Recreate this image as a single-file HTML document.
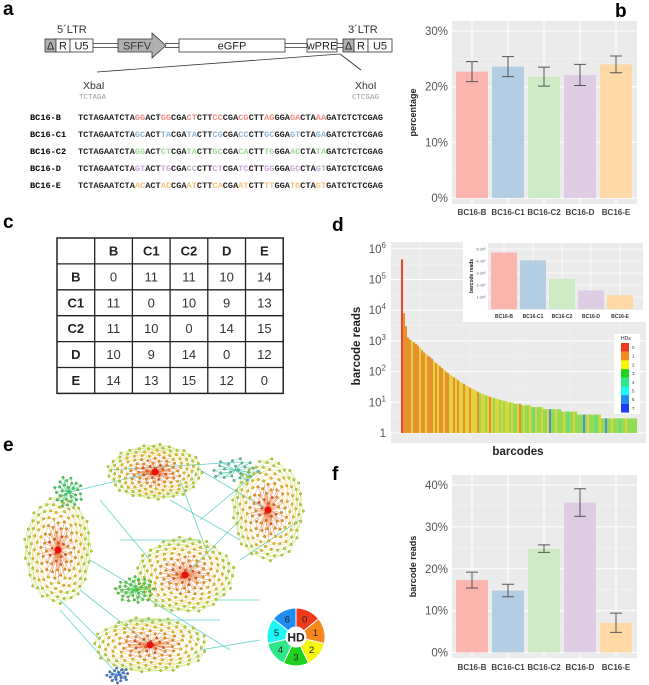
<!DOCTYPE html>
<html><head><meta charset="utf-8">
<style>
html,body{margin:0;padding:0;background:#fff;}
svg{display:block;font-family:"Liberation Sans",sans-serif;}
.lbl{font-weight:bold;font-size:19px;}
.seq{font-family:"Liberation Mono",monospace;font-weight:bold;font-size:8.6px;}
.tick{fill:#555;font-size:11.5px;}
.xt{fill:#444;font-size:8px;font-weight:bold;}
</style></head>
<body>
<svg id="fig" width="649" height="685" viewBox="0 0 649 685" xmlns="http://www.w3.org/2000/svg">
<text class="lbl" x="3" y="15">a</text>
<text class="lbl" x="615" y="17">b</text>
<text class="lbl" x="3" y="228">c</text>
<text class="lbl" x="332" y="231">d</text>
<text class="lbl" x="3" y="451">e</text>
<text class="lbl" x="332" y="480">f</text>

<g id="vector" stroke="#333" stroke-width="0.8" font-size="11">
  <text x="57" y="33" font-size="11" fill="#333" stroke="none">5´LTR</text>
  <text x="348" y="33" font-size="11" fill="#333" stroke="none">3´LTR</text>
  <line x1="93" y1="43.5" x2="118" y2="43.5"/><line x1="93" y1="47.5" x2="118" y2="47.5"/>
  <line x1="165" y1="43.5" x2="179" y2="43.5"/><line x1="165" y1="47.5" x2="179" y2="47.5"/>
  <line x1="285" y1="43.5" x2="307" y2="43.5"/><line x1="285" y1="47.5" x2="307" y2="47.5"/>
  <line x1="337" y1="43.5" x2="343" y2="43.5"/><line x1="337" y1="47.5" x2="343" y2="47.5"/>
  <rect x="45" y="39" width="11" height="13" fill="#b0b0b0"/><rect x="56" y="39" width="14" height="13" fill="#fff"/><rect x="70" y="39" width="23" height="13" fill="#fff"/>
  <polygon points="118,39 152,39 152,33 166,45.5 152,58 152,52 118,52" fill="#b0b0b0"/>
  <rect x="179" y="39" width="106" height="13" fill="#fff"/>
  <rect x="307" y="39" width="30" height="13" fill="#fff"/>
  <rect x="343" y="39" width="11" height="13" fill="#b0b0b0"/><rect x="354" y="39" width="14" height="13" fill="#fff"/><rect x="368" y="39" width="24" height="13" fill="#fff"/>
  <g stroke="none" fill="#222" text-anchor="middle">
    <text x="50.5" y="49.5">Δ</text><text x="63" y="49.5">R</text><text x="81.5" y="49.5">U5</text>
    <text x="137" y="49.5" fill="#333">SFFV</text><text x="232" y="49.5">eGFP</text><text x="322" y="49.5">wPRE</text>
    <text x="348.5" y="49.5">Δ</text><text x="361" y="49.5">R</text><text x="380" y="49.5">U5</text>
  </g>
  <line x1="340" y1="54" x2="97" y2="72"/><line x1="340" y1="54" x2="361" y2="70"/>
  <g stroke="none">
    <text x="83" y="89" font-size="10.5" fill="#333">XbaI</text>
    <text x="79" y="99" font-size="7.5" fill="#999" font-family="Liberation Mono,monospace">TCTAGA</text>
    <text x="355" y="89" font-size="10.5" fill="#333">XhoI</text>
    <text x="352" y="99" font-size="7.5" fill="#999" font-family="Liberation Mono,monospace">CTCGAG</text>
  </g>
</g>
<g id="seqs"></g>

<g id="table"></g>
<g id="panelB"></g>
<g id="panelD"></g>
<g id="panelE"></g>
<g id="panelF"></g>
</svg>
<script>
// ---------- data ----------
const seqNames = ["BC16-B","BC16-C1","BC16-C2","BC16-D","BC16-E"];
const seqBarcodes = [
 ["GG","GG","CT","CC","CG","AG","GA","AA"],
 ["GC","TA","TA","CG","CC","GC","GT","GA"],
 ["GG","CT","TA","GC","CA","TG","AC","TA"],
 ["GT","TG","CC","CT","TC","GG","GC","GT"],
 ["AC","AC","AT","CA","AT","TT","TG","GT"]];
const seqColors = ["#f08a80","#8fb4d8","#9fd896","#c9a7d6","#f7c07a"];
const seqFixed = ["TCTAGAATCTA","ACT","CGA","CTT","CGA","CTT","GGA","CTA","GATCTCTCGAG"];

const hdLabels = ["B","C1","C2","D","E"];
const hdMatrix = [[0,11,11,10,14],[11,0,10,9,13],[11,10,0,14,15],[10,9,14,0,12],[14,13,15,12,0]];

const barCats = ["BC16-B","BC16-C1","BC16-C2","BC16-D","BC16-E"];
const barFills = ["#fbb4ae","#b3cde3","#ccebc5","#decbe4","#fed9a6"];
const bVals = [22.7,23.6,21.8,22.1,24.0];
const bErr = [1.8,1.8,1.7,1.9,1.5];
const bTicks = [0,10,20,30];
const fVals = [17.3,14.8,24.8,35.8,7.1];
const fErr = [1.9,1.5,0.9,3.3,2.3];
const fTicks = [0,10,20,30,40];

const insetVals = [470000,405000,250000,155000,115000];
const insetTicks = [1,2,3,4,5];

const readVals = [450000,8000,3000,1300,1100,1000,900,800,700,600,500,420,380,330,300,260,220,190,170,150,
 130,115,100,90,80,72,65,58,52,47,43,40,36,33,30,28,26,24,22,20,19,18,17,16,15,14,14,13,13,12,
 12,11,11,10,10,10,9,9,9,9,8,8,8,8,8,7,7,7,7,7,7,6,6,6,6,6,6,6,6,6,5,5,5,5,5,5,5,5,4,4,
 4,4,4,4,4,4,4,4,4,4,3,3,3,3,3,3,3,3,3,3,3,3,3,3,3,3,3,3];
const readHD = [0,1,1,1,1,2,1,1,1,2,1,1,2,1,1,1,2,1,2,1,1,2,1,1,2,2,1,2,1,2,2,1,2,2,1,2,2,2,1,3,
 2,2,3,2,1,2,3,2,2,3,2,3,2,2,3,2,3,3,2,1,3,2,3,3,2,3,4,2,3,3,2,3,3,2,6,3,3,2,3,3,3,2,3,4,3,3,2,3,3,3,
 3,6,3,2,3,3,3,4,3,2,3,3,6,3,3,2,3,3,3,4,3,3,2,3,3,3,3,3];
const decadeTicks = [0,1,2,3,4,5,6];

const wheelLabels = ["0","1","2","3","4","5","6"];

const NS="http://www.w3.org/2000/svg";
function el(tag,attrs,parent,text){const e=document.createElementNS(NS,tag);for(const k in attrs)e.setAttribute(k,attrs[k]);if(text!==undefined)e.textContent=text;parent.appendChild(e);return e;}

// ---------- sequences ----------
(function(){
 const g=document.getElementById('seqs');
 seqNames.forEach((n,r)=>{
  const y=120+r*17;
  const t=el('text',{class:'seq',x:30,y:y},g,n);
  
  
  const s=el('text',{class:'seq',x:78,y:y,textLength:305,lengthAdjust:'spacing'},g);
  
  
  seqFixed.forEach((f,i)=>{
   el('tspan',{fill:'#222'},s,f);
   if(i<8) el('tspan',{fill:seqColors[r]},s,seqBarcodes[r][i]);
  });
 });
})();

// ---------- table ----------
(function(){
 const g=document.getElementById('table');
 const x0=57,y0=238,cw=37.7,rh=25.9;
 el('rect',{x:x0,y:y0,width:cw*6,height:rh*6,fill:'#fff',stroke:'#222','stroke-width':1.5},g);
 for(let i=1;i<6;i++){
  el('line',{x1:x0+cw*i,y1:y0,x2:x0+cw*i,y2:y0+rh*6,stroke:'#222','stroke-width':1.3},g);
  el('line',{x1:x0,y1:y0+rh*i,x2:x0+cw*6,y2:y0+rh*i,stroke:'#222','stroke-width':1.3},g);
 }
 hdLabels.forEach((l,i)=>{
  const a=el('text',{x:x0+cw*(i+1.5),y:y0+rh*0.5+4.5,'text-anchor':'middle','font-size':13,'font-weight':'bold',fill:'#222'},g,l);
  
  
  const b=el('text',{x:x0+cw*0.5,y:y0+rh*(i+1.5)+4.5,'text-anchor':'middle','font-size':13,'font-weight':'bold',fill:'#222'},g,l);
  
  
  hdMatrix[i].forEach((v,j)=>{
   const c=el('text',{x:x0+cw*(j+1.5),y:y0+rh*(i+1.5)+4.5,'text-anchor':'middle','font-size':13,fill:'#333'},g,v);
   
   
  });
 });
})();

// ---------- bar charts b and f ----------
function barChart(gid,vals,errs,ticks,yTop,yBot,vmax,plotTop,plotBot,ytitle,labY){
 const g=document.getElementById(gid);
 const L=452,R=637;
 const y=v=>yBot-(v/vmax)*(yBot-yTop);
 const x=i=>472+i*36;
 el('rect',{x:L,y:plotTop,width:R-L,height:plotBot-plotTop,fill:'#ebebeb'},g);
 for(let k=0;k<ticks.length-1;k++) el('line',{x1:L,x2:R,y1:(y(ticks[k])+y(ticks[k+1]))/2,y2:(y(ticks[k])+y(ticks[k+1]))/2,stroke:'#f5f5f5','stroke-width':0.6},g);
 ticks.forEach(t=>{
  el('line',{x1:L,x2:R,y1:y(t),y2:y(t),stroke:'#fff','stroke-width':1.1},g);
  const tl=el('text',{class:'tick',x:L-4,y:y(t)+4,'text-anchor':'end'},g,t+'%');
  
  
 });
 vals.forEach((v,i)=>el('line',{x1:x(i),x2:x(i),y1:plotTop,y2:plotBot,stroke:'#fff','stroke-width':1.1},g));
 vals.forEach((v,i)=>{
  const b=el('rect',{x:x(i)-16,y:y(v),width:32,height:y(0)-y(v),fill:barFills[i]},g);
  
  
  const e=errs[i];
  const eg=el('path',{d:`M${x(i)-6},${y(v+e)}H${x(i)+6}M${x(i)},${y(v+e)}V${y(v-e)}M${x(i)-6},${y(v-e)}H${x(i)+6}`,stroke:'#555','stroke-width':1,fill:'none'},g);
  
  
  const xl=el('text',{class:'xt',x:x(i),y:labY,'text-anchor':'middle'},g,barCats[i]);
  
  
 });
 const yt=el('text',{x:0,y:0,'font-size':9,'font-weight':'bold',fill:'#222','text-anchor':'middle',transform:`translate(416,${(plotTop+plotBot)/2}) rotate(-90)`},g,ytitle);
 
 
}
barChart('panelB',bVals,bErr,bTicks,31,198,30,21,204,'percentage',215);
barChart('panelF',fVals,fErr,fTicks,485,652.5,40,475,658,'barcode reads',670);

// ---------- panel d ----------
(function(){
 const g=document.getElementById('panelD');
 const L=391,R=646,T=242,B=443;
 const y=v=>433-Math.log10(v)*30.7;
 el('rect',{x:L,y:T,width:R-L,height:B-T,fill:'#ebebeb'},g);
 decadeTicks.forEach(d=>{
  el('line',{x1:L,x2:R,y1:433-d*30.7,y2:433-d*30.7,stroke:'#fff','stroke-width':1},g);
  if(d<6) el('line',{x1:L,x2:R,y1:433-(d+0.5)*30.7,y2:433-(d+0.5)*30.7,stroke:'#f4f4f4','stroke-width':0.6},g);
  const t=el('text',{class:'tick',x:L-5,y:433-d*30.7+4,'text-anchor':'end','font-size':12},g);
  
  
  if(d===0) t.textContent='1';
  else {el('tspan',{},t,'10');el('tspan',{dy:-5,'font-size':8},t,String(d));}
 });
 [420,470,520,570,620].forEach(xx=>el('line',{x1:xx,x2:xx,y1:T,y2:B,stroke:'#f4f4f4','stroke-width':0.7},g));
 const hdCol=["#e8452a","#e8902e","#e2d23c","#92dc55","#5fdc8a","#50d8d8","#4a8ee0","#3050e0"];
 readVals.forEach((v,i)=>{
  const b=el('rect',{x:401+i*2,y:y(v),width:2.05,height:433-y(v),fill:hdCol[readHD[i]]},g);
  
  
 });
 const yt=el('text',{x:0,y:0,'font-size':11.5,'font-weight':'bold',fill:'#222','text-anchor':'middle',transform:'translate(360,346) rotate(-90)'},g,'barcode reads');
 
 
 const xt=el('text',{x:518,y:455,'font-size':11.5,'font-weight':'bold',fill:'#222','text-anchor':'middle'},g,'barcodes');
 
 
 // legend
 const lg=el('g',{},g);
 
 
 el('rect',{x:614,y:334,width:26,height:80,fill:'#fff'},lg);
 el('text',{x:621,y:340,'font-size':5,fill:'#222'},lg,'HDs');
 const legCol=["#f03a1a","#f7861c","#f5f510","#1ed21e","#2ee88a","#1ef5f5","#1e8ef5","#1e3cf5"];
 legCol.forEach((c,i)=>{
  el('rect',{x:621,y:343+i*8.7,width:8,height:8.7,fill:c},lg);
  el('text',{x:632,y:349+i*8.7,'font-size':4.5,fill:'#333'},lg,String(i));
 });
 // inset
 const ig=el('g',{},g);
 
 
 el('rect',{x:463,y:240,width:183,height:82,fill:'#fff'},ig);
 const iL=488,iR=643,iT=243,iB=310;
 const iy=v=>309-v/100000*12;
 el('rect',{x:iL,y:iT,width:iR-iL,height:iB-iT,fill:'#ebebeb'},ig);
 insetTicks.forEach(t=>{
  el('line',{x1:iL,x2:iR,y1:iy(t*100000),y2:iy(t*100000),stroke:'#fff','stroke-width':0.7},ig);
  const tl=el('text',{x:iL-2,y:iy(t*100000)+1.5,'font-size':4,fill:'#555','text-anchor':'end'},ig,t+'·10⁵');
  
  
 });
 el('text',{x:0,y:0,'font-size':5,'font-weight':'bold',fill:'#222','text-anchor':'middle',transform:'translate(473,276) rotate(-90)'},ig,'barcode reads');
 insetVals.forEach((v,i)=>{
  const cx=504+i*29;
  el('line',{x1:cx,x2:cx,y1:iT,y2:iB,stroke:'#fff','stroke-width':0.7},ig);
  const b=el('rect',{x:cx-13,y:iy(v),width:26,height:309-iy(v),fill:barFills[i]},ig);
  
  
  el('text',{x:cx,y:318,'font-size':5,'font-weight':'bold',fill:'#333','text-anchor':'middle'},ig,barCats[i]);
 });
})();

// ---------- panel e network ----------
(function(){
 const g=document.getElementById('panelE');
 const links=el('g',{},g), nodes=el('g',{},g);
 function col(r){return r<0.3?'#e8501e':r<0.55?'#f0901e':r<0.8?'#e8c020':'#b8d830';}
 const clusters=[
  {cx:155,cy:472,rx:48,ry:28,n:150,hub:1,warm:1},
  {cx:268,cy:510,rx:36,ry:52,n:150,hub:1,warm:1},
  {cx:58,cy:550,rx:34,ry:55,n:150,hub:1,warm:1},
  {cx:185,cy:575,rx:50,ry:38,n:160,hub:1,warm:1},
  {cx:150,cy:645,rx:58,ry:28,n:140,hub:1,warm:1},
  {cx:68,cy:492,rx:15,ry:16,n:30,hub:0,c:'#30d070'},
  {cx:135,cy:590,rx:20,ry:14,n:40,hub:0,c:'#40d050'},
  {cx:118,cy:675,rx:12,ry:8,n:20,hub:0,c:'#2a70e0'},
  {cx:235,cy:470,rx:25,ry:12,n:25,hub:0,c:'#40c8b0'}];
 const inter=[[70,492,155,472],[110,470,240,462],[200,470,268,510],[240,520,185,575],[80,590,150,645],[60,600,100,640],
  [150,600,230,650],[120,540,200,540],[215,600,260,600],[170,500,240,540],[90,560,140,590],[100,500,150,560],
  [240,560,300,520],[200,650,260,640],[60,610,118,675],[180,480,210,560],[130,620,220,620],[260,470,200,520]];
 inter.forEach(s=>el('line',{x1:s[0],y1:s[1],x2:s[2],y2:s[3],stroke:'#40c8c0','stroke-width':0.8,opacity:0.8},links));
 clusters.forEach(c=>{
  const pts=[];
  for(let k=0;k<c.n;k++){
   const r=Math.sqrt((k+0.5)/c.n),th=k*2.39996;
   pts.push([c.cx+c.rx*r*Math.cos(th),c.cy+c.ry*r*Math.sin(th),r]);
  }
  pts.forEach((p,k)=>{
   const cc=c.warm?col(p[2]):c.c;
   if(c.hub&&p[2]<0.6) el('line',{x1:c.cx,y1:c.cy,x2:p[0],y2:p[1],stroke:'#e86a2a','stroke-width':0.5,opacity:0.8},links);
   if(!c.hub&&k%2===0) el('line',{x1:c.cx,y1:c.cy,x2:p[0],y2:p[1],stroke:cc,'stroke-width':0.6},links);
   [8,13].forEach(d=>{if(k>=d){const q=pts[k-d];el('line',{x1:q[0],y1:q[1],x2:p[0],y2:p[1],stroke:cc,'stroke-width':0.5,opacity:0.75},links);}});
   el('circle',{cx:p[0],cy:p[1],r:1.3,fill:cc,stroke:'#887030','stroke-width':0.3},nodes);
  });
  if(c.hub){const h=el('circle',{cx:c.cx,cy:c.cy,r:3.5,fill:'#e81010'},nodes);
   
   }
 });
 // wheel
 const wg=el('g',{},g);
 
 
 const wc=["#f03a1a","#f7861c","#f5f510","#1ed21e","#2ee88a","#1ef5f5","#1e8ef5"];
 const cx=296,cy=637,R=29,r0=10,n=7;
 wheelLabels.forEach((l,i)=>{
  const a0=-Math.PI/2+i*2*Math.PI/n,a1=a0+2*Math.PI/n;
  const P=(a,rr)=>[cx+rr*Math.cos(a),cy+rr*Math.sin(a)];
  const [x0,y0]=P(a0,R),[x1,y1]=P(a1,R),[x2,y2]=P(a1,r0),[x3,y3]=P(a0,r0);
  el('path',{d:`M${x0},${y0}A${R},${R} 0 0 1 ${x1},${y1}L${x2},${y2}A${r0},${r0} 0 0 0 ${x3},${y3}Z`,fill:wc[i],stroke:'#fff','stroke-width':1},wg);
  const [tx,ty]=P((a0+a1)/2,20);
  el('text',{x:tx,y:ty+3.5,'font-size':9.5,fill:'#222','text-anchor':'middle'},wg,l);
 });
 el('text',{x:cx,y:cy+4.5,'font-size':12,'font-weight':'bold',fill:'#222','text-anchor':'middle'},wg,'HD');
})();
</script>
</body></html>
